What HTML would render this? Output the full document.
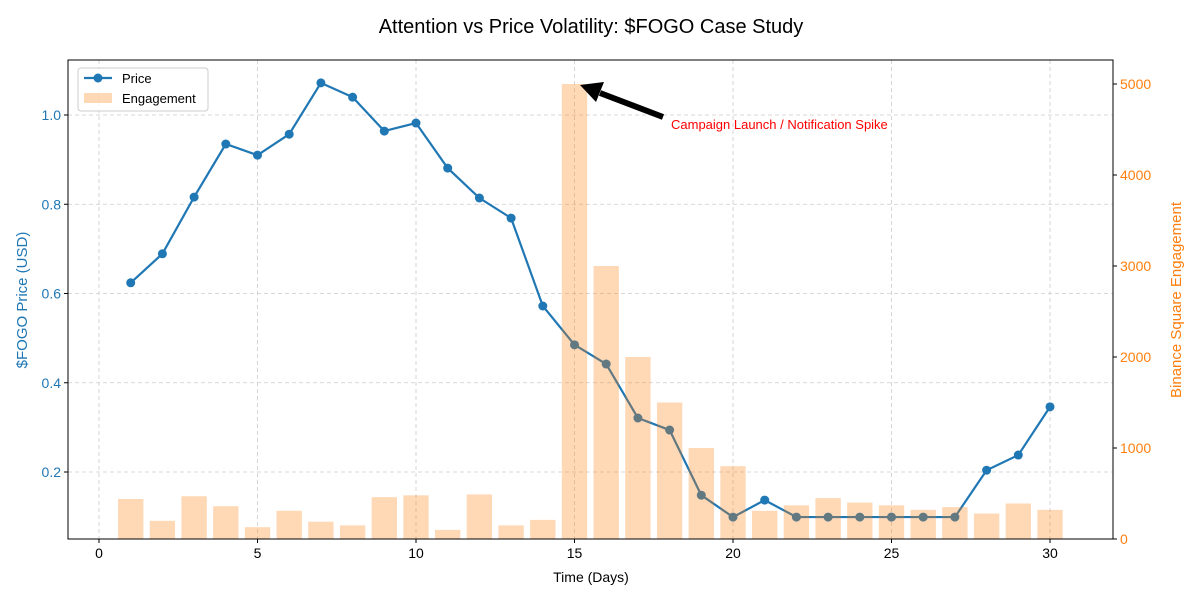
<!DOCTYPE html>
<html><head><meta charset="utf-8"><style>
body{margin:0;background:#fff;font-family:"Liberation Sans","DejaVu Sans",sans-serif}
</style></head><body>
<svg id="chart" width="1200" height="600" xmlns="http://www.w3.org/2000/svg" font-family="Liberation Sans, DejaVu Sans, sans-serif">
<text x="591" y="33" text-anchor="middle" font-size="20" fill="#000">Attention vs Price Volatility: $FOGO Case Study</text>
<g id="grid"></g>
<g id="line"></g>
<g id="bars"></g>
<g id="axes"></g>
</svg>
<script>
const days = [1,2,3,4,5,6,7,8,9,10,11,12,13,14,15,16,17,18,19,20,21,22,23,24,25,26,27,28,29,30];
const price = [0.624,0.689,0.816,0.935,0.910,0.957,1.072,1.040,0.964,0.982,0.881,0.814,0.769,0.572,0.485,0.442,0.321,0.294,0.148,0.099,0.137,0.099,0.099,0.099,0.099,0.099,0.099,0.204,0.238,0.346];
const engagement = [440,200,470,360,130,310,190,150,460,480,100,490,150,210,5000,3000,2000,1500,1000,800,310,370,450,400,370,320,350,280,390,320];
const xTicks = [0,5,10,15,20,25,30];
const yTicks = [0.2,0.4,0.6,0.8,1.0];
const y2Ticks = [0,1000,2000,3000,4000,5000];

const L=68,R=1113,T=60,B=539;
const X=d=>99+(d)*(1050-99)/30;
const Y=p=>115+(1.0-p)*446.25;
const Y2=v=>539-v*0.091;
const NS="http://www.w3.org/2000/svg";
function mk(tag,attrs,parent,text){const e=document.createElementNS(NS,tag);for(const k in attrs)e.setAttribute(k,attrs[k]);if(text!==undefined)e.textContent=text;parent.appendChild(e);return e;}
const grid=document.getElementById('grid'),line=document.getElementById('line'),bars=document.getElementById('bars'),axes=document.getElementById('axes');

xTicks.forEach(t=>{const g=mk('line',{x1:X(t),x2:X(t),y1:T,y2:B,stroke:'#ccc','stroke-dasharray':'4,3','stroke-width':0.8},grid);

});
yTicks.forEach(t=>{const g=mk('line',{x1:L,x2:R,y1:Y(t),y2:Y(t),stroke:'#ccc','stroke-dasharray':'4,3','stroke-width':0.8},grid);

});

const pl=mk('polyline',{points:days.map((d,i)=>X(d)+','+Y(price[i])).join(' '),fill:'none',stroke:'#1f77b4','stroke-width':2.2},line);


days.forEach((d,i)=>{const c=mk('circle',{cx:X(d),cy:Y(price[i]),r:4.5,fill:'#1f77b4'},line);

});

days.forEach((d,i)=>{const w=0.8*(1050-99)/30;const b=mk('rect',{x:X(d)-w/2,y:Y2(engagement[i]),width:w,height:B-Y2(engagement[i]),fill:'#ff7f0e','fill-opacity':0.3},bars);

});

mk('rect',{x:L,y:T,width:R-L,height:B-T,fill:'none',stroke:'#000','stroke-width':1},axes);
xTicks.forEach(t=>{mk('line',{x1:X(t),x2:X(t),y1:B,y2:B+4,stroke:'#000'},axes);
const tx=mk('text',{x:X(t),y:B+19,'text-anchor':'middle','font-size':14,fill:'#000'},axes,String(t));

});
yTicks.forEach(t=>{mk('line',{x1:L-4,x2:L,y1:Y(t),y2:Y(t),stroke:'#000'},axes);
const tx=mk('text',{x:L-7,y:Y(t)+5,'text-anchor':'end','font-size':14,fill:'#1f77b4'},axes,t.toFixed(1));

});
y2Ticks.forEach(t=>{mk('line',{x1:R,x2:R+4,y1:Y2(t),y2:Y2(t),stroke:'#000'},axes);
const tx=mk('text',{x:R+7,y:Y2(t)+5,'font-size':14,fill:'#ff7f0e'},axes,String(t));

});

let t=mk('text',{x:591,y:582,'text-anchor':'middle','font-size':14},axes,'Time (Days)');


t=mk('text',{transform:'translate(27,300) rotate(-90)','text-anchor':'middle','font-size':15,fill:'#1f77b4'},axes,'$FOGO Price (USD)');


t=mk('text',{transform:'translate(1181,300) rotate(-90)','text-anchor':'middle','font-size':15,fill:'#ff7f0e'},axes,'Binance Square Engagement');



// annotation
const ann=mk('g',{},axes);


mk('line',{x1:663,y1:117,x2:600,y2:93,stroke:'#000','stroke-width':6},ann);
mk('polygon',{points:'580,85 604,82 596,102',fill:'#000'},ann);
mk('text',{x:671,y:129,'font-size':13,fill:'#ff0000'},ann,'Campaign Launch / Notification Spike');

// legend
const lg=mk('g',{},axes);


mk('rect',{x:78,y:68,width:130,height:43,rx:3,fill:'#fff','fill-opacity':0.8,stroke:'#ccc'},lg);
mk('line',{x1:84,x2:112,y1:78,y2:78,stroke:'#1f77b4','stroke-width':2.2},lg);
mk('circle',{cx:98,cy:78,r:4.5,fill:'#1f77b4'},lg);
mk('text',{x:122,y:83,'font-size':13},lg,'Price');
mk('rect',{x:84,y:93,width:28,height:10,fill:'#ff7f0e','fill-opacity':0.3},lg);
mk('text',{x:122,y:103,'font-size':13},lg,'Engagement');
</script>
</body></html>
